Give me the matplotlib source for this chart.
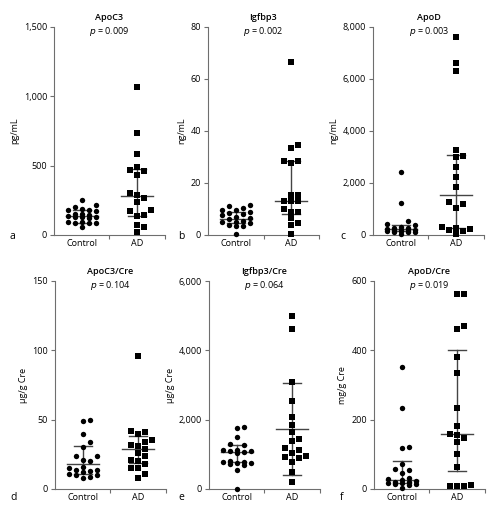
import numpy as np
import matplotlib
matplotlib.use("Agg")
import matplotlib.pyplot as plt
from matplotlib.ticker import FuncFormatter, FixedLocator

plt.rcParams['font.family'] = ['Open Sans', 'DejaVu Sans']

groups = ["Control", "AD"]

# panel a - ApoC3 (pg/mL)
apoc3_ctrl = [255, 215, 200, 185, 182, 180, 175, 150, 148, 145, 135, 132, 130, 128, 125, 95, 92, 90, 88, 85, 60]
apoc3_ad = [1070, 735, 585, 490, 470, 460, 430, 305, 290, 268, 238, 178, 175, 145, 140, 70, 60, 22]
# panel b - Igfbp3 (ng/mL)
igf_ctrl = [11.5, 11.0, 10.5, 9.5, 9.5, 9.0, 8.5, 8.0, 7.5, 7.0, 6.5, 6.0, 5.5, 5.0, 5.0, 4.5, 4.0, 3.5, 3.5, 0.5]
igf_ad = [66.7, 34.6, 33.5, 28.6, 28.3, 27.7, 15.5, 15.5, 13.2, 13.1, 12.9, 10.0, 9.0, 8.7, 6.4, 4.7, 4.0, 0.4]
# panel c - ApoD (ng/mL)
apod_ctrl = [2440, 1230, 530, 420, 380, 300, 260, 250, 230, 210, 200, 190, 180, 160, 150, 130, 120, 100, 20]
apod_ad = [7600, 6600, 6320, 3260, 3030, 3000, 2600, 2220, 1850, 1260, 1190, 1040, 290, 280, 230, 180, 170, 20]
# panel d - ApoC3/Cre (ug/g Cre)
apoc3cre_ctrl = [50, 49, 40, 34, 30, 24, 24, 21, 20, 16, 15, 14, 14, 13, 12, 11, 10, 10, 9, 8]
apoc3cre_ad = [96, 42, 41, 40, 35, 34, 32, 31, 29, 26, 24, 21, 20, 18, 15, 15, 11, 8]
# panel e - Igfbp3/Cre (ug/g Cre)
igfcre_ctrl = [1800, 1770, 1500, 1300, 1270, 1130, 1120, 1100, 1100, 1080, 1050, 800, 780, 770, 760, 750, 720, 680, 560, 0]
igfcre_ad = [5000, 4625, 3087, 2540, 2077, 1837, 1635, 1452, 1375, 1192, 1134, 1029, 956, 933, 885, 789, 500, 212]
# panel f - ApoD/Cre (mg/g Cre)
apodcre_ctrl = [352, 234, 122, 117, 73, 58, 55, 45, 32, 28, 25, 22, 20, 20, 18, 17, 15, 14, 12, 2]
apodcre_ad = [562, 562, 471, 461, 380, 334, 233, 181, 159, 157, 146, 136, 101, 64, 12, 9, 9, 9]

# median and interquartile range: [control, AD]
medians = [[135, 278], [6.2, 13.2], [220, 1550], [18, 29], [1080, 1740], [27, 159]]
q1s = [[88, 139], [4.5, 8.2], [140, 257], [10.8, 18.5], [770, 413], [16, 51]]
q3s = [[180, 474], [8.9, 28.3], [370, 3065], [31.2, 38.5], [1270, 3067], [82, 401]]

titles = ["ApoC3", "Igfbp3", "ApoD", "ApoC3/Cre", "Igfbp3/Cre", "ApoD/Cre"]
pvals = ["0.009", "0.002", "0.003", "0.104", "0.064", "0.019"]
ylabels = ["pg/mL", "ng/mL", "ng/mL", "\u00b5g/g Cre", "\u00b5g/g Cre", "mg/g Cre"]
letters = ["a", "b", "c", "d", "e", "f"]
ymaxes = [1500, 80, 8000, 150, 6000, 600]
ysteps = [500, 20, 2000, 50, 2000, 200]

data = [(apoc3_ctrl, apoc3_ad), (igf_ctrl, igf_ad), (apod_ctrl, apod_ad),
        (apoc3cre_ctrl, apoc3cre_ad), (igfcre_ctrl, igfcre_ad), (apodcre_ctrl, apodcre_ad)]


def swarm(values, ymax, px_x=55.5, px_y=208.0, step=7.0, gap=6.0, kmax=2):
    # beeswarm in fixed column steps, at most kmax columns to each side
    vals = np.asarray(values, dtype=float)
    order = np.argsort(vals)
    ypix = vals * px_y / ymax
    placed = []
    offs = np.zeros(len(vals))
    for i in order:
        best, best_d = 0.0, -1.0
        for k in range(kmax + 1):
            for c in ([0] if k == 0 else [k, -k]):
                xp = c * step
                d = min([np.hypot(xp - px, ypix[i] - py) for px, py in placed] + [99])
                if d >= gap:
                    best, best_d = xp, 999
                    break
                if d > best_d + 0.5:
                    best, best_d = xp, d
            if best_d == 999:
                break
        placed.append((best, ypix[i]))
        offs[i] = best / px_x
    return offs


fig = plt.figure(figsize=(5.02, 5.16), dpi=100)
lefts = [54, 208, 373]
tops = [27, 281]
aw, ah = 111, 208

for n in range(6):
    r, c = divmod(n, 3)
    left = lefts[c] + (1 if r == 1 else 0)
    ax = fig.add_axes([left / 502, 1 - (tops[r] + ah) / 516, aw / 502, ah / 516])
    ctrl, ad = data[n]
    ymax = ymaxes[n]
    for g, (vals, mk) in enumerate([(ctrl, 'o'), (ad, 's')]):
        xo = swarm(vals, ymax)
        ax.scatter(g + xo, vals, marker=mk, s=15 if mk == 'o' else 13, color='black',
                   linewidths=0, zorder=3, clip_on=False)
        lc = '#444444'
        ax.plot([g - 0.29, g + 0.29], [medians[n][g]] * 2, color=lc, lw=1.0, zorder=2)
        ax.plot([g - 0.16, g + 0.16], [q1s[n][g]] * 2, color=lc, lw=1.0, zorder=2)
        ax.plot([g - 0.16, g + 0.16], [q3s[n][g]] * 2, color=lc, lw=1.0, zorder=2)
        ax.plot([g, g], [q1s[n][g], q3s[n][g]], color=lc, lw=1.0, zorder=2)

    ax.set_xlim(-0.5, 1.5)
    ax.set_ylim(0, ymax)
    ax.spines['top'].set_visible(False)
    ax.spines['right'].set_visible(False)
    for s in ['left', 'bottom']:
        ax.spines[s].set_color('#6e6e6e')
        ax.spines[s].set_linewidth(0.8)
    ax.set_yticks(np.arange(0, ymax + 1, ysteps[n]))
    ax.yaxis.set_major_formatter(FuncFormatter(lambda v, p: f"{int(v):,}"))
    ax.set_xticks([0, 1])
    ax.set_xticklabels(groups)
    ax.xaxis.set_minor_locator(FixedLocator([0.5, 1.5]))
    ax.tick_params(axis='x', which='major', length=0, pad=3, labelsize=6.5)
    ax.tick_params(axis='x', which='minor', length=3, width=0.8, color='#6e6e6e', direction='out')
    ax.tick_params(axis='y', length=3, width=0.8, color='#6e6e6e', pad=2, labelsize=6.5)
    ax.set_ylabel(ylabels[n], fontsize=6.5, labelpad=3)
    ax.text(0.5, 1 + 9 / ah, titles[n], transform=ax.transAxes, ha='center', va='center',
            fontsize=6.5, fontweight='semibold')
    ax.text(0.5, 1 - 5 / ah, f"$\\it{{p}}$ = {pvals[n]}", transform=ax.transAxes,
            ha='center', va='center', fontsize=6.5)
    lx = [10, 178, 340][c]
    ly = [237, 498][r]
    fig.text(lx / 502, 1 - ly / 516, letters[n], ha='left', va='center', fontsize=7.5)

fig.savefig("out.png", dpi=100)
